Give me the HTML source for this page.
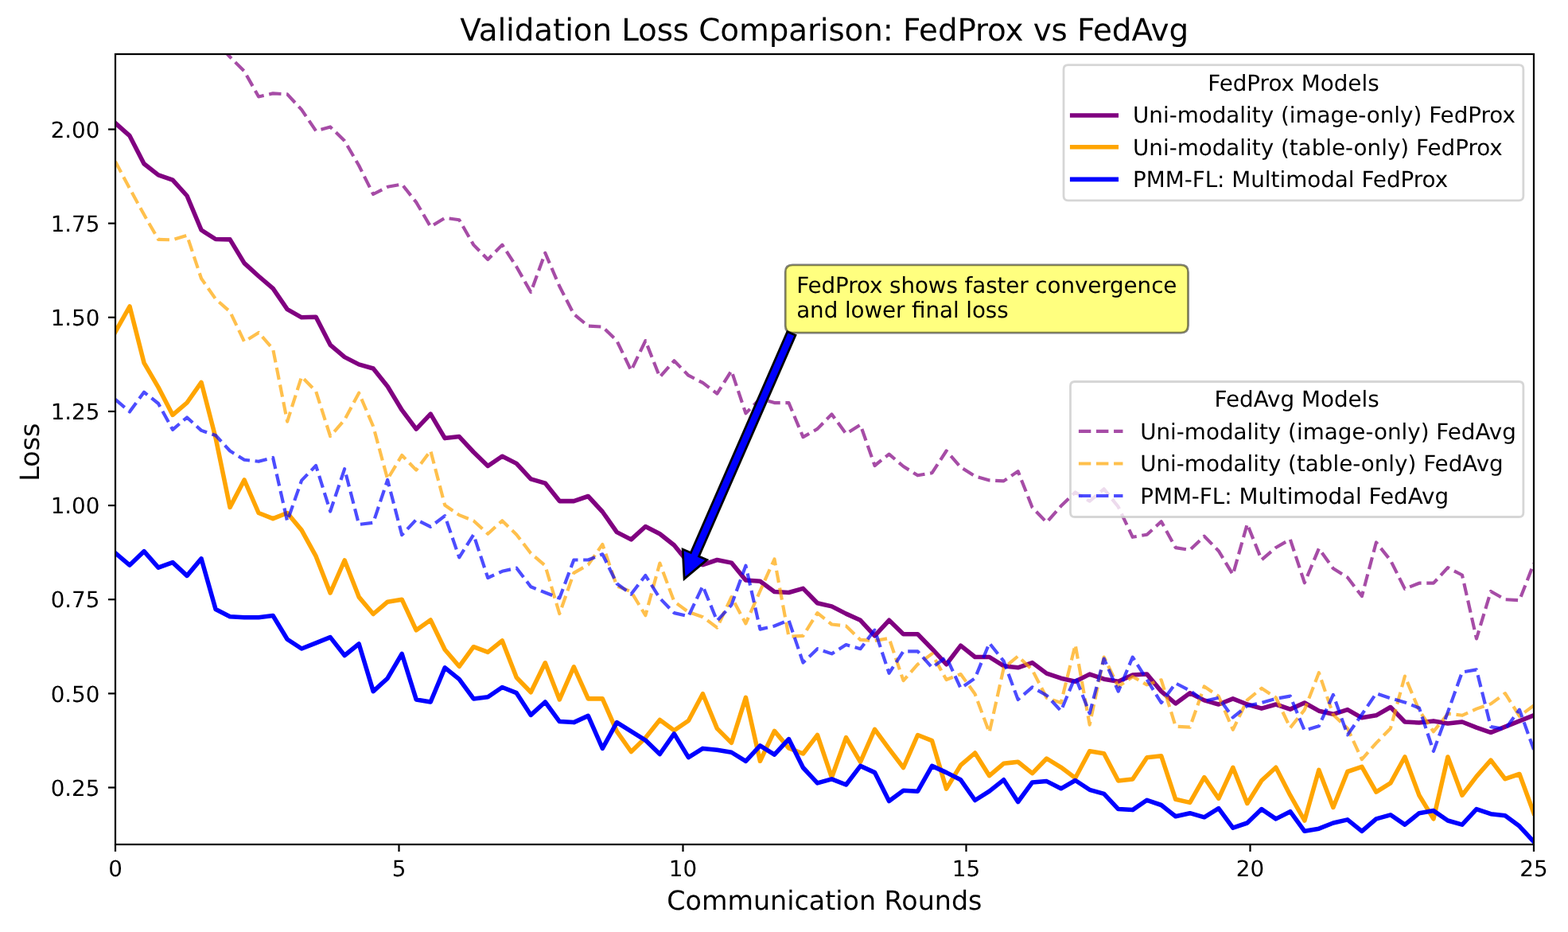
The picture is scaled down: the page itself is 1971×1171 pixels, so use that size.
<!DOCTYPE html>
<html><head><meta charset="utf-8"><title>Validation Loss Comparison: FedProx vs FedAvg</title>
<style>html,body{margin:0;padding:0;background:#fff;width:1971px;height:1171px;overflow:hidden}</style>
</head><body>
<svg width="1971" height="1171" viewBox="0 0 1971 1171" style="display:block;text-rendering:geometricPrecision">
<rect x="0" y="0" width="1971" height="1171" fill="#ffffff"/>
<defs><clipPath id="axclip"><rect x="145.0" y="68.0" width="1783.0" height="993.0"/></clipPath></defs>
<g clip-path="url(#axclip)">
<polyline points="145.00,154.70 163.01,170.70 181.02,205.80 199.03,219.90 217.04,226.20 235.05,246.00 253.06,289.00 271.07,300.50 289.08,300.90 307.09,330.60 325.10,347.00 343.11,362.40 361.12,388.60 379.13,398.80 397.14,398.30 415.15,433.30 433.16,448.60 451.17,457.90 469.18,463.00 487.19,485.50 505.20,515.20 523.21,539.05 541.22,520.10 559.23,550.60 577.24,548.60 595.25,568.00 613.26,585.50 631.27,573.20 649.28,582.40 667.29,601.90 685.30,607.10 703.31,629.60 721.32,629.60 739.33,623.50 757.34,643.00 775.35,668.60 793.36,677.90 811.37,661.50 829.38,670.70 847.39,685.00 865.40,707.00 883.41,709.60 901.42,703.50 919.43,707.10 937.44,729.10 955.45,730.20 973.46,743.50 991.47,744.50 1009.48,739.40 1027.49,757.80 1045.51,761.90 1063.52,771.10 1081.53,779.30 1099.54,798.80 1117.55,779.30 1135.56,796.80 1153.57,796.80 1171.58,815.20 1189.59,834.70 1207.60,811.10 1225.61,825.50 1243.62,825.50 1261.63,836.70 1279.64,838.80 1297.65,832.60 1315.66,846.10 1333.67,852.20 1351.68,856.30 1369.69,847.10 1387.70,853.20 1405.71,856.30 1423.72,848.10 1441.73,847.10 1459.74,868.60 1477.75,884.00 1495.76,870.70 1513.77,879.90 1531.78,885.00 1549.79,877.80 1567.80,885.00 1585.81,890.10 1603.82,885.00 1621.83,891.10 1639.84,883.00 1657.85,893.20 1675.86,897.30 1693.87,891.60 1711.88,901.80 1729.89,898.80 1747.90,888.50 1765.91,907.00 1783.92,908.00 1801.93,905.90 1819.94,909.00 1837.95,907.00 1855.96,914.10 1873.97,920.30 1891.98,913.10 1909.99,905.90 1928.00,898.80" fill="none" stroke="#800080" stroke-opacity="1.0" stroke-width="5.556" stroke-linejoin="round" stroke-linecap="square"/>
<polyline points="145.00,416.90 163.01,385.00 181.02,455.80 199.03,486.60 217.04,521.40 235.05,506.00 253.06,480.40 271.07,550.10 289.08,637.40 307.09,603.00 325.10,644.50 343.11,651.70 361.12,644.50 379.13,666.10 397.14,698.90 415.15,745.00 433.16,704.00 451.17,750.10 469.18,771.50 487.19,756.20 505.20,753.20 523.21,791.80 541.22,779.05 559.23,816.30 577.24,837.30 595.25,812.70 613.26,819.40 631.27,805.00 649.28,851.20 667.29,869.70 685.30,832.80 703.31,878.90 721.32,837.90 739.33,877.90 757.34,877.90 775.35,918.90 793.36,944.50 811.37,927.00 829.38,904.50 847.39,917.80 865.40,905.50 883.41,871.70 901.42,915.40 919.43,933.35 937.44,876.40 955.45,956.30 973.46,918.40 991.47,939.90 1009.48,947.00 1027.49,923.50 1045.51,976.80 1063.52,926.60 1081.53,957.30 1099.54,916.30 1117.55,940.90 1135.56,964.50 1153.57,923.50 1171.58,930.70 1189.59,991.10 1207.60,961.40 1225.61,946.00 1243.62,974.70 1261.63,959.30 1279.64,957.30 1297.65,971.60 1315.66,953.00 1333.67,964.10 1351.68,977.50 1369.69,943.70 1387.70,946.70 1405.71,981.00 1423.72,979.00 1441.73,951.80 1459.74,949.80 1477.75,1004.30 1495.76,1008.40 1513.77,976.60 1531.78,1003.30 1549.79,964.30 1567.80,1009.40 1585.81,980.70 1603.82,964.30 1621.83,999.20 1639.84,1031.00 1657.85,967.40 1675.86,1014.50 1693.87,969.50 1711.88,963.30 1729.89,995.10 1747.90,983.80 1765.91,951.00 1783.92,999.20 1801.93,1028.90 1819.94,951.00 1837.95,999.20 1855.96,975.60 1873.97,955.10 1891.98,978.70 1909.99,972.50 1928.00,1021.70" fill="none" stroke="#ffa500" stroke-opacity="1.0" stroke-width="5.556" stroke-linejoin="round" stroke-linecap="square"/>
<polyline points="145.00,694.80 163.01,710.10 181.02,692.70 199.03,713.20 217.04,706.60 235.05,723.40 253.06,701.90 271.07,765.50 289.08,774.70 307.09,775.70 325.10,775.70 343.11,773.50 361.12,803.20 379.13,815.00 397.14,807.80 415.15,800.60 433.16,823.50 451.17,809.00 469.18,868.60 487.19,852.20 505.20,821.50 523.21,878.90 541.22,881.95 559.23,838.90 577.24,853.30 595.25,877.90 613.26,875.80 631.27,863.50 649.28,870.70 667.29,898.40 685.30,882.00 703.31,906.60 721.32,907.60 739.33,899.40 757.34,940.40 775.35,907.60 793.36,918.90 811.37,930.10 829.38,947.50 847.39,921.90 865.40,951.60 883.41,940.40 901.42,942.30 919.43,945.25 937.44,956.30 955.45,936.80 973.46,948.10 991.47,928.60 1009.48,964.50 1027.49,983.90 1045.51,978.80 1063.52,986.00 1081.53,962.40 1099.54,970.60 1117.55,1006.50 1135.56,993.20 1153.57,994.20 1171.58,962.40 1189.59,970.60 1207.60,979.80 1225.61,1005.50 1243.62,994.20 1261.63,979.80 1279.64,1007.50 1297.65,982.90 1315.66,981.60 1333.67,990.80 1351.68,980.50 1369.69,992.30 1387.70,997.40 1405.71,1016.60 1423.72,1017.60 1441.73,1005.30 1459.74,1011.50 1477.75,1025.80 1495.76,1021.70 1513.77,1026.80 1531.78,1015.60 1549.79,1040.20 1567.80,1034.00 1585.81,1016.60 1603.82,1028.90 1621.83,1019.70 1639.84,1044.30 1657.85,1041.20 1675.86,1034.00 1693.87,1029.90 1711.88,1044.30 1729.89,1028.90 1747.90,1023.80 1765.91,1036.10 1783.92,1021.70 1801.93,1018.60 1819.94,1031.00 1837.95,1036.10 1855.96,1016.60 1873.97,1022.70 1891.98,1024.80 1909.99,1038.10 1928.00,1057.60" fill="none" stroke="#0000ff" stroke-opacity="1.0" stroke-width="5.556" stroke-linejoin="round" stroke-linecap="square"/>
<polyline points="145.00,-88.00 163.01,-68.00 181.02,-48.00 199.03,-28.00 217.04,-8.00 235.05,12.00 253.06,32.00 271.07,52.00 289.08,71.50 307.09,89.50 325.10,121.50 343.11,117.40 361.12,118.40 379.13,137.90 397.14,164.50 415.15,159.40 433.16,177.00 451.17,208.00 469.18,244.00 487.19,234.80 505.20,231.50 523.21,254.15 541.22,284.75 559.23,273.80 577.24,276.20 595.25,307.60 613.26,326.00 631.27,307.60 649.28,335.20 667.29,367.00 685.30,317.80 703.31,359.80 721.32,394.70 739.33,409.60 757.34,410.60 775.35,428.10 793.36,465.60 811.37,428.10 829.38,473.80 847.39,453.30 865.40,471.70 883.41,480.90 901.42,494.55 919.43,465.85 937.44,519.40 955.45,500.90 973.46,506.10 991.47,506.10 1009.48,549.10 1027.49,538.90 1045.51,520.40 1063.52,545.00 1081.53,533.70 1099.54,585.00 1117.55,570.60 1135.56,586.00 1153.57,597.30 1171.58,594.20 1189.59,566.50 1207.60,587.00 1225.61,598.30 1243.62,603.40 1261.63,604.40 1279.64,592.10 1297.65,637.65 1315.66,656.30 1333.67,635.80 1351.68,618.40 1369.69,629.70 1387.70,614.30 1405.71,636.80 1423.72,674.80 1441.73,671.70 1459.74,655.30 1477.75,688.10 1495.76,691.10 1513.77,673.70 1531.78,692.20 1549.79,721.90 1567.80,658.40 1585.81,703.40 1603.82,687.95 1621.83,677.70 1639.84,732.25 1657.85,689.25 1675.86,714.30 1693.87,725.50 1711.88,749.10 1729.89,681.50 1747.90,704.00 1765.91,739.90 1783.92,732.70 1801.93,732.70 1819.94,713.20 1837.95,722.50 1855.96,802.40 1873.97,743.00 1891.98,753.20 1909.99,754.20 1928.00,708.10" fill="none" stroke="#800080" stroke-opacity="0.7" stroke-width="4.167" stroke-dasharray="15.417 6.667" stroke-dashoffset="18.63" stroke-linejoin="round" stroke-linecap="butt"/>
<polyline points="145.00,202.90 163.01,236.80 181.02,269.60 199.03,300.90 217.04,301.30 235.05,295.80 253.06,350.00 271.07,375.70 289.08,391.60 307.09,429.20 325.10,417.90 343.11,438.40 361.12,529.60 379.13,473.20 397.14,491.70 415.15,548.00 433.16,527.50 451.17,493.70 469.18,535.70 487.19,602.00 505.20,572.00 523.21,590.60 541.22,566.20 559.23,634.80 577.24,647.10 595.25,654.30 613.26,670.70 631.27,654.30 649.28,671.70 667.29,695.30 685.30,710.70 703.31,771.10 721.32,719.90 739.33,709.60 757.34,684.00 775.35,736.30 793.36,743.40 811.37,773.20 829.38,707.60 847.39,755.70 865.40,769.00 883.41,775.20 901.42,788.55 919.43,750.10 937.44,783.40 955.45,742.50 973.46,702.50 991.47,799.80 1009.48,798.80 1027.49,770.10 1045.51,784.50 1063.52,786.50 1081.53,803.90 1099.54,805.00 1117.55,801.90 1135.56,855.20 1153.57,834.70 1171.58,821.40 1189.59,854.00 1207.60,847.00 1225.61,872.00 1243.62,920.40 1261.63,839.50 1279.64,824.40 1297.65,841.80 1315.66,876.80 1333.67,883.00 1351.68,810.20 1369.69,910.60 1387.70,825.60 1405.71,862.50 1423.72,850.20 1441.73,860.40 1459.74,854.30 1477.75,912.70 1495.76,913.70 1513.77,862.50 1531.78,874.80 1549.79,916.80 1567.80,879.60 1585.81,864.75 1603.82,876.50 1621.83,914.40 1639.84,891.85 1657.85,845.25 1675.86,898.05 1693.87,915.20 1711.88,954.10 1729.89,933.60 1747.90,915.20 1765.91,849.60 1783.92,892.60 1801.93,919.30 1819.94,896.70 1837.95,898.80 1855.96,890.60 1873.97,884.40 1891.98,871.10 1909.99,899.80 1928.00,886.50" fill="none" stroke="#ffa500" stroke-opacity="0.7" stroke-width="4.167" stroke-dasharray="15.417 6.667" stroke-linejoin="round" stroke-linecap="butt"/>
<polyline points="145.00,501.90 163.01,517.30 181.02,492.70 199.03,507.00 217.04,539.80 235.05,524.50 253.06,540.90 271.07,547.00 289.08,566.50 307.09,577.70 325.10,579.80 343.11,575.00 361.12,654.80 379.13,603.60 397.14,585.00 415.15,642.50 433.16,589.20 451.17,658.90 469.18,656.80 487.19,603.00 505.20,672.20 523.21,652.85 541.22,661.85 559.23,648.20 577.24,700.40 595.25,671.70 613.26,726.00 631.27,717.80 649.28,713.70 667.29,737.30 685.30,744.50 703.31,751.60 721.32,703.50 739.33,703.50 757.34,696.30 775.35,733.20 793.36,746.50 811.37,723.00 829.38,751.60 847.39,770.10 865.40,774.20 883.41,736.30 901.42,780.05 919.43,760.10 937.44,710.70 955.45,790.60 973.46,786.50 991.47,779.30 1009.48,832.60 1027.49,815.20 1045.51,821.40 1063.52,810.10 1081.53,815.20 1099.54,791.60 1117.55,845.80 1135.56,818.30 1153.57,818.30 1171.58,838.80 1189.59,825.50 1207.60,864.70 1225.61,852.10 1243.62,808.00 1261.63,830.60 1279.64,879.00 1297.65,863.40 1315.66,873.70 1333.67,893.20 1351.68,850.20 1369.69,896.30 1387.70,827.60 1405.71,868.60 1423.72,825.60 1441.73,854.00 1459.74,883.00 1477.75,858.40 1495.76,867.60 1513.77,880.90 1531.78,876.80 1549.79,901.40 1567.80,886.90 1585.81,882.85 1603.82,877.90 1621.83,874.65 1639.84,917.90 1657.85,912.30 1675.86,872.85 1693.87,923.40 1711.88,897.70 1729.89,871.10 1747.90,877.30 1765.91,882.40 1783.92,889.50 1801.93,943.90 1819.94,894.70 1837.95,844.50 1855.96,841.40 1873.97,913.10 1891.98,916.20 1909.99,891.60 1928.00,941.80" fill="none" stroke="#0000ff" stroke-opacity="0.7" stroke-width="4.167" stroke-dasharray="15.417 6.667" stroke-linejoin="round" stroke-linecap="butt"/>
</g>
<rect x="145.0" y="68.0" width="1783.0" height="993.0" fill="none" stroke="#000" stroke-width="2.222" stroke-linejoin="miter"/>
<line x1="145.00" y1="1061.00" x2="145.00" y2="1070.00" stroke="#000" stroke-width="2.222"/>
<text x="145.00" y="1100.65" font-family="'DejaVu Sans', sans-serif" font-size="27.778" text-anchor="middle">0</text>
<line x1="501.50" y1="1061.00" x2="501.50" y2="1070.00" stroke="#000" stroke-width="2.222"/>
<text x="501.50" y="1100.65" font-family="'DejaVu Sans', sans-serif" font-size="27.778" text-anchor="middle">5</text>
<line x1="858.50" y1="1061.00" x2="858.50" y2="1070.00" stroke="#000" stroke-width="2.222"/>
<text x="858.50" y="1100.65" font-family="'DejaVu Sans', sans-serif" font-size="27.778" text-anchor="middle">10</text>
<line x1="1214.50" y1="1061.00" x2="1214.50" y2="1070.00" stroke="#000" stroke-width="2.222"/>
<text x="1214.50" y="1100.65" font-family="'DejaVu Sans', sans-serif" font-size="27.778" text-anchor="middle">15</text>
<line x1="1571.50" y1="1061.00" x2="1571.50" y2="1070.00" stroke="#000" stroke-width="2.222"/>
<text x="1571.50" y="1100.65" font-family="'DejaVu Sans', sans-serif" font-size="27.778" text-anchor="middle">20</text>
<line x1="1928.00" y1="1061.00" x2="1928.00" y2="1070.00" stroke="#000" stroke-width="2.222"/>
<text x="1928.00" y="1100.65" font-family="'DejaVu Sans', sans-serif" font-size="27.778" text-anchor="middle">25</text>
<line x1="136.00" y1="989.50" x2="145.00" y2="989.50" stroke="#000" stroke-width="2.222"/>
<text x="125.46" y="999.70" font-family="'DejaVu Sans', sans-serif" font-size="27.778" text-anchor="end">0.25</text>
<line x1="136.00" y1="871.36" x2="145.00" y2="871.36" stroke="#000" stroke-width="2.222"/>
<text x="125.46" y="881.56" font-family="'DejaVu Sans', sans-serif" font-size="27.778" text-anchor="end">0.50</text>
<line x1="136.00" y1="753.21" x2="145.00" y2="753.21" stroke="#000" stroke-width="2.222"/>
<text x="125.46" y="763.41" font-family="'DejaVu Sans', sans-serif" font-size="27.778" text-anchor="end">0.75</text>
<line x1="136.00" y1="635.07" x2="145.00" y2="635.07" stroke="#000" stroke-width="2.222"/>
<text x="125.46" y="645.27" font-family="'DejaVu Sans', sans-serif" font-size="27.778" text-anchor="end">1.00</text>
<line x1="136.00" y1="516.93" x2="145.00" y2="516.93" stroke="#000" stroke-width="2.222"/>
<text x="125.46" y="527.13" font-family="'DejaVu Sans', sans-serif" font-size="27.778" text-anchor="end">1.25</text>
<line x1="136.00" y1="398.78" x2="145.00" y2="398.78" stroke="#000" stroke-width="2.222"/>
<text x="125.46" y="408.98" font-family="'DejaVu Sans', sans-serif" font-size="27.778" text-anchor="end">1.50</text>
<line x1="136.00" y1="280.64" x2="145.00" y2="280.64" stroke="#000" stroke-width="2.222"/>
<text x="125.46" y="290.84" font-family="'DejaVu Sans', sans-serif" font-size="27.778" text-anchor="end">1.75</text>
<line x1="136.00" y1="162.50" x2="145.00" y2="162.50" stroke="#000" stroke-width="2.222"/>
<text x="125.46" y="172.70" font-family="'DejaVu Sans', sans-serif" font-size="27.778" text-anchor="end">2.00</text>
<text x="1036.4" y="1142.87" font-family="'DejaVu Sans', sans-serif" font-size="33.333" text-anchor="middle">Communication Rounds</text>
<text x="48.66" y="568.15" transform="rotate(-90 48.66 568.15)" font-family="'DejaVu Sans', sans-serif" font-size="33.333" text-anchor="middle">Loss</text>
<text x="1036.2" y="50.93" font-family="'DejaVu Sans', sans-serif" font-size="38.889" text-anchor="middle" textLength="915.9" lengthAdjust="spacing">Validation Loss Comparison: FedProx vs FedAvg</text>
<path d="M 996.20 418.10 L 1484.50 418.10 Q 1493.50 418.10 1493.50 409.10 L 1493.50 341.90 Q 1493.50 332.90 1484.50 332.90 L 996.20 332.90 Q 987.20 332.90 987.20 341.90 L 987.20 409.10 Q 987.20 418.10 996.20 418.10 Z" fill="#ffff00" fill-opacity="0.5" stroke="#000" stroke-opacity="0.5" stroke-width="2.778"/>
<path d="M 989.76 416.78 L 868.36 694.53 L 858.18 690.08 L 860.10 727.30 L 888.72 703.43 L 878.54 698.98 L 999.94 421.22 Z" fill="#0000ff" stroke="#000" stroke-width="2.778" stroke-linejoin="miter" stroke-miterlimit="10"/>
<text x="1001.2" y="367.7" font-family="'DejaVu Sans', sans-serif" font-size="27.778" textLength="478.2" lengthAdjust="spacing">FedProx shows faster convergence</text>
<text x="1001.2" y="398.6" font-family="'DejaVu Sans', sans-serif" font-size="27.778" textLength="266.5" lengthAdjust="spacing">and lower final loss</text>
<path d="M 1342.56 251.90 L 1909.29 251.90 Q 1914.85 251.90 1914.85 246.34 L 1914.85 87.16 Q 1914.85 81.60 1909.29 81.60 L 1342.56 81.60 Q 1337.00 81.60 1337.00 87.16 L 1337.00 246.34 Q 1337.00 251.90 1342.56 251.90 Z" fill="#ffffff" fill-opacity="0.8" stroke="#cccccc" stroke-opacity="0.8" stroke-width="2.778"/>
<text x="1625.92" y="114.0" font-family="'DejaVu Sans', sans-serif" font-size="27.778" text-anchor="middle">FedProx Models</text>
<line x1="1347.70" y1="145.0" x2="1403.26" y2="145.0" stroke="#800080" stroke-width="5.556" stroke-linecap="square"/>
<text x="1424.0" y="154.0" font-family="'DejaVu Sans', sans-serif" font-size="27.778">Uni-modality (image-only) FedProx</text>
<line x1="1347.70" y1="184.8" x2="1403.26" y2="184.8" stroke="#ffa500" stroke-width="5.556" stroke-linecap="square"/>
<text x="1424.0" y="194.6" font-family="'DejaVu Sans', sans-serif" font-size="27.778">Uni-modality (table-only) FedProx</text>
<line x1="1347.70" y1="225.4" x2="1403.26" y2="225.4" stroke="#0000ff" stroke-width="5.556" stroke-linecap="square"/>
<text x="1424.0" y="234.7" font-family="'DejaVu Sans', sans-serif" font-size="27.778">PMM-FL: Multimodal FedProx</text>
<path d="M 1351.06 649.50 L 1909.34 649.50 Q 1914.90 649.50 1914.90 643.94 L 1914.90 485.06 Q 1914.90 479.50 1909.34 479.50 L 1351.06 479.50 Q 1345.50 479.50 1345.50 485.06 L 1345.50 643.94 Q 1345.50 649.50 1351.06 649.50 Z" fill="#ffffff" fill-opacity="0.8" stroke="#cccccc" stroke-opacity="0.8" stroke-width="2.778"/>
<text x="1630.20" y="511.1" font-family="'DejaVu Sans', sans-serif" font-size="27.778" text-anchor="middle">FedAvg Models</text>
<line x1="1355.90" y1="541.8" x2="1411.46" y2="541.8" stroke="#800080" stroke-opacity="0.7" stroke-width="4.167" stroke-dasharray="15.417 6.667" stroke-linecap="butt"/>
<text x="1433.2" y="551.7" font-family="'DejaVu Sans', sans-serif" font-size="27.778">Uni-modality (image-only) FedAvg</text>
<line x1="1355.90" y1="582.5" x2="1411.46" y2="582.5" stroke="#ffa500" stroke-opacity="0.7" stroke-width="4.167" stroke-dasharray="15.417 6.667" stroke-linecap="butt"/>
<text x="1433.2" y="592.0" font-family="'DejaVu Sans', sans-serif" font-size="27.778">Uni-modality (table-only) FedAvg</text>
<line x1="1355.90" y1="623.0" x2="1411.46" y2="623.0" stroke="#0000ff" stroke-opacity="0.7" stroke-width="4.167" stroke-dasharray="15.417 6.667" stroke-linecap="butt"/>
<text x="1433.2" y="632.6" font-family="'DejaVu Sans', sans-serif" font-size="27.778">PMM-FL: Multimodal FedAvg</text>
</svg>
</body></html>
